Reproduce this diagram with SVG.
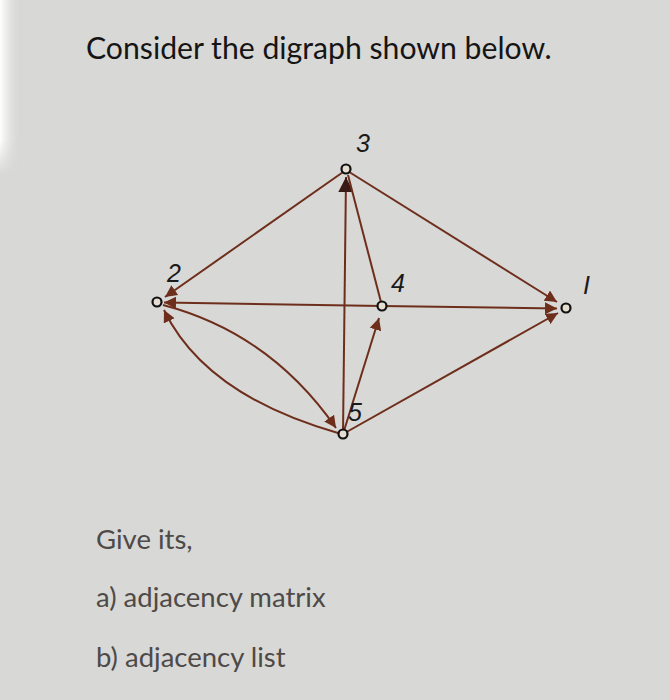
<svg xmlns="http://www.w3.org/2000/svg" width="670" height="700" viewBox="0 0 670 700">
<style>
.bg{fill:#d8d8d6}
.title{font-family:Lato,"Open Sans",sans-serif;font-size:30.2px;fill:#151515}
.body{font-family:Lato,"Open Sans",sans-serif;font-size:27.5px;fill:#4e4a48}
.lbl{font-family:"Liberation Sans",sans-serif;font-size:25px;font-style:italic;fill:#1a1a1a}
.edge{stroke:#6e2e1c;stroke-width:2;fill:none}
.node circle{fill:#e4ddd0;stroke:#111;stroke-width:2.2}
</style>
<defs>
<marker id="arr" viewBox="0 0 10 10" refX="10" refY="5" markerWidth="6" markerHeight="6" orient="auto" markerUnits="strokeWidth">
<path d="M0,0 L10,5 L0,10 Z" fill="#6e2e1c"/>
</marker>
<marker id="arrB" viewBox="0 0 10 10" refX="10" refY="5" markerWidth="7.5" markerHeight="7.5" orient="auto" markerUnits="strokeWidth">
<path d="M0,0 L10,5 L0,10 Z" fill="#3a1a14"/>
</marker>
<linearGradient id="edgeW" x1="0" y1="0" x2="1" y2="0">
<stop offset="0" stop-color="#ffffff"/>
<stop offset="1" stop-color="#d8d8d6" stop-opacity="0"/>
</linearGradient>
<linearGradient id="edgeV" x1="0" y1="0" x2="0" y2="1">
<stop offset="0.8" stop-color="#ffffff" stop-opacity="1"/>
<stop offset="1" stop-color="#ffffff" stop-opacity="0"/>
</linearGradient>
<mask id="fade"><rect x="0" y="0" width="22" height="175" fill="url(#edgeV)"/></mask>
</defs>
<rect class="bg" x="0" y="0" width="670" height="700"/>
<rect x="0" y="0" width="22" height="175" fill="url(#edgeW)" mask="url(#fade)"/>
<text class="title" x="86" y="59">Consider the digraph shown below.</text>

<g id="connectors">
<line id="e3-2" class="edge" x1="346" y1="170" x2="165" y2="297" marker-end="url(#arr)"/>
<line id="e4-2" class="edge" x1="382" y1="306" x2="164" y2="302.5" marker-end="url(#arr)"/>
<line id="e4-1" class="edge" x1="382" y1="306" x2="557" y2="308.5" marker-end="url(#arr)"/>
<line id="e3-1" class="edge" x1="346" y1="170" x2="557" y2="302" marker-end="url(#arr)"/>
<line id="e5-1" class="edge" x1="343" y1="434" x2="558" y2="313" marker-end="url(#arr)"/>
<line id="e5-3" class="edge" x1="343" y1="434" x2="346" y2="177" marker-end="url(#arrB)"/>
<line id="e3-4" class="edge" x1="348" y1="175" x2="382" y2="306"/>
<line id="e5-4" class="edge" x1="343" y1="434" x2="379" y2="318" marker-end="url(#arr)"/>
<path id="e2-5" class="edge" d="M163,305 Q270,333 336,428" marker-end="url(#arr)"/>
<path id="e5-2" class="edge" d="M338,433 Q205,395 164,310" marker-end="url(#arr)"/>
</g>

<g id="node1" class="node"><circle cx="566" cy="308" r="4.5"/><text class="lbl" x="583" y="294">I</text></g>
<g id="node2" class="node"><circle cx="157" cy="302" r="4.5"/><text class="lbl" x="167" y="282">2</text></g>
<g id="node3" class="node"><circle cx="346" cy="169" r="4.5"/><text class="lbl" x="356" y="152">3</text></g>
<g id="node4" class="node"><circle cx="382" cy="306" r="4.5"/><text class="lbl" x="391" y="292">4</text></g>
<g id="node5" class="node"><circle cx="343" cy="434" r="4.5"/><text class="lbl" x="348" y="421">5</text></g>

<text class="body" x="96" y="549">Give its,</text>
<text class="body" x="96" y="607">a) adjacency matrix</text>
<text class="body" x="96" y="667">b) adjacency list</text>
</svg>
